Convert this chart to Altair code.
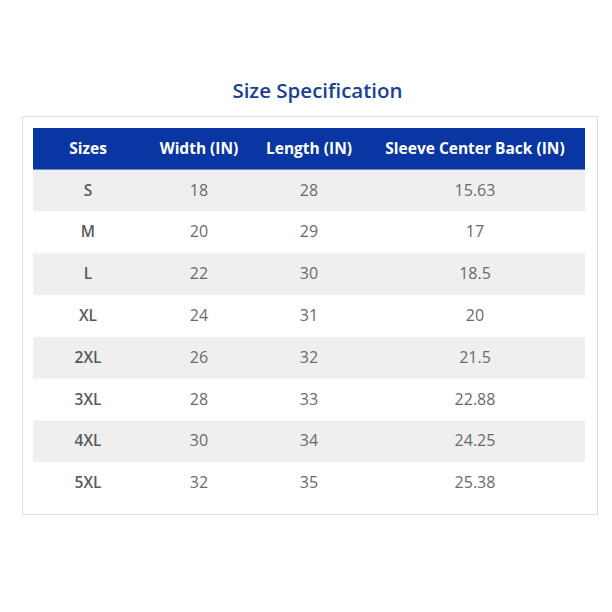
import altair as alt
import pandas as pd

sizes = ["S", "M", "L", "XL", "2XL", "3XL", "4XL", "5XL"]
width_in = [18, 20, 22, 24, 26, 28, 30, 32]
length_in = [28, 29, 30, 31, 32, 33, 34, 35]
sleeve_in = [15.63, 17, 18.5, 20, 21.5, 22.88, 24.25, 25.38]
columns = ["Sizes", "Width (IN)", "Length (IN)", "Sleeve Center Back (IN)"]
header_key = "header"
row_order = [header_key] + sizes

rows = []
for j, c in enumerate(columns):
    rows.append({"row": header_key, "colidx": j, "label": c, "kind": "header"})
for i, s in enumerate(sizes):
    vals = [s, f"{width_in[i]:g}", f"{length_in[i]:g}", f"{sleeve_in[i]:g}"]
    for j, v in enumerate(vals):
        rows.append({"row": s, "colidx": j, "label": v,
                     "kind": "size" if j == 0 else "value"})
cells = pd.DataFrame(rows)

bands = pd.DataFrame({
    "row": row_order,
    "fill": ["header"] + ["gray" if i % 2 == 0 else "white" for i in range(len(sizes))],
})

yscale = alt.Scale(type="band", domain=row_order, range=[12, 388], paddingInner=0, paddingOuter=0)
# piecewise-linear column scale: column index -> column centre
xscale = alt.Scale(type="linear", domain=[0, 1, 2, 3], range=[66, 177, 287, 453])

band_layer = alt.Chart(bands).mark_rect().encode(
    y=alt.Y("row:O", scale=yscale, axis=None),
    x=alt.value(11),
    x2=alt.value(563),
    color=alt.Color("fill:N", scale=alt.Scale(domain=["header", "gray", "white"],
                                              range=["#0a36a3", "#efefef", "#ffffff"]),
                    legend=None),
)

FONT = "Open Sans"

def text_layer(kind, **style):
    return alt.Chart(cells[cells.kind == kind]).mark_text(font=FONT, align="center", **style).encode(
        x=alt.X("colidx:Q", scale=xscale, axis=None),
        y=alt.Y("row:O", scale=yscale, axis=None, bandPosition=0.5),
        text="label:N",
    )

header_text = text_layer("header", fontSize=15.5, fontWeight="bold", color="#ffffff")
size_text = text_layer("size", fontSize=15.5, fontWeight=600, color="#5a5a5a")
value_text = text_layer("value", fontSize=16, fontWeight="normal", color="#6a6a6a")

chart = alt.layer(band_layer, header_text, size_text, value_text).properties(
    width=575,
    height=398,
    padding={"left": 14, "top": 108, "right": 7, "bottom": 90},
    autosize=alt.AutoSizeParams(type="none"),
    title=alt.TitleParams(
        "Size Specification", font=FONT, fontSize=20.5, fontWeight=600,
        color="#1b3f94", anchor="middle", offset=14, dx=8,
    ),
).configure_view(stroke="#cccccc", strokeWidth=1.2).configure(background="#ffffff")

chart.save("out.html", embed_options={"renderer": "svg", "actions": False})
